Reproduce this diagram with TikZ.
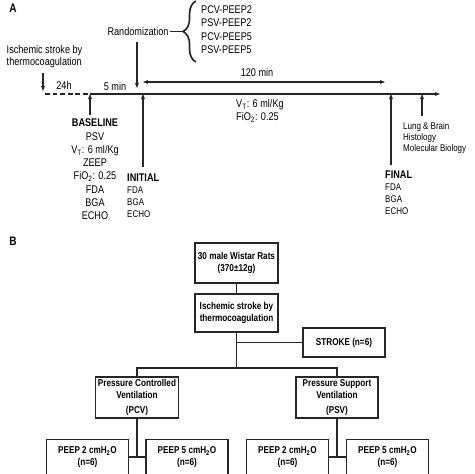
\documentclass[tikz,border=0pt]{standalone}
\usepackage{fontspec}
\setmainfont[FakeStretch=0.82]{Liberation Sans}
\usetikzlibrary{arrows.meta,decorations.pathreplacing}

\begin{document}
\begin{tikzpicture}[
    x=0.03cm, y=-0.03cm,
    txt/.style={inner sep=0pt, text=black, font=\fontsize{9.5}{11.4}\selectfont},
    note/.style={inner sep=0pt, text=black, align=left, font=\fontsize{8.3}{10.2}\selectfont},
    panel/.style={inner sep=0pt, font=\bfseries\fontsize{10.5}{12}\selectfont},
    box/.style={draw=black!85, line width=1.2pt, inner sep=2pt, align=center, text=black,
        minimum width=2.47cm, font=\bfseries\fontsize{8.5}{10}\selectfont},
    link/.style={draw=black!85, line width=1pt},
    arrow/.style={link, -{Stealth[length=4.5pt,width=3.5pt]}},
    darrow/.style={link, {Stealth[length=4.5pt,width=3.5pt]}-{Stealth[length=4.5pt,width=3.5pt]}}
]
    \useasboundingbox (0,0) rectangle (474,474);

    % --- A: timeline of the protocol ---
    \node[panel] (labA) at (13,8) {A};

    \coordinate (t0) at (45,94);   % stroke
    \coordinate (tb) at (90,94);   % baseline
    \coordinate (ti) at (143,94);  % initial
    \coordinate (tf) at (391,94);  % final
    \coordinate (tl) at (422,94);  % lung & brain
    \coordinate (tend) at (440,94);

    \draw[link, dash pattern=on 4pt off 2.5pt] (t0) -- (tb);
    \draw[arrow] (tb) -- (tend);

    % randomization into the four groups
    \node[txt, anchor=west, align=left, font=\fontsize{9.5}{11.5}\selectfont] (groups) at (201,29.8)
        {PCV-PEEP2\\PSV-PEEP2\\PCV-PEEP5\\PSV-PEEP5};
    \draw[link, line width=1.4pt, decorate, decoration={brace, amplitude=11pt}] (196,62) -- (196,1);
    \coordinate (tip) at (183,31.5);
    \node[txt, inner xsep=1pt] (rand) at (138,31.5) {Randomization};
    \draw[link] (rand.east) -- (tip);
    \coordinate (r5) at (137,88);
    \draw[arrow, shorten <=5pt] (rand.south -| r5) -- (r5);

    % stroke before baseline
    \node[note, font=\fontsize{9.5}{10.2}\selectfont] (isch) at (44.5,56.8) {Ischemic stroke by\\thermocoagulation};
    \coordinate (s24) at (43,91);
    \draw[arrow, shorten <=4pt] (isch.south -| s24) -- (s24);
    \node[txt] (h24) at (64,85) {24h};
    \node[txt] (m5) at (115,87) {5 min};

    % 120 min window
    \coordinate (w0) at (143,82);
    \coordinate (w1) at (385,82);
    \draw[darrow] (w0) -- (w1);
    \node[txt] (m120) at (257,73) {120 min};
    \node[txt, anchor=west, align=left, font=\fontsize{9.5}{11.1}\selectfont] (vent) at (236,111)
        {V\textsubscript{T}: 6 ml/Kg\\FiO\textsubscript{2}: 0.25};

    % time points
    \coordinate (bl) at (90,115);
    \coordinate (il) at (143,167);
    \coordinate (fl) at (391,165);
    \coordinate (ll) at (422,116);
    \draw[arrow] (bl) -- (tb);
    \draw[arrow] (il) -- (ti);
    \draw[arrow] (fl) -- (tf);
    \draw[arrow] (ll) -- (tl);

    \node[txt, align=center, font=\fontsize{9.5}{11.35}\selectfont] (base) at (95,169.5)
        {\textbf{BASELINE}\\PSV\\V\textsubscript{T}: 6 ml/Kg\\ZEEP\\FiO\textsubscript{2}: 0.25\\FDA\\BGA\\ECHO};
    \node[note, anchor=west] (init) at (127,195.8)
        {{\fontsize{9.5}{10.2}\selectfont\bfseries INITIAL}\\FDA\\BGA\\ECHO};
    \node[note, anchor=west] (fin) at (385,192.8)
        {{\fontsize{9.5}{10.2}\selectfont\bfseries FINAL}\\FDA\\BGA\\ECHO};
    \node[note, anchor=west, font=\fontsize{8.3}{9.4}\selectfont] (lung) at (403,137.8)
        {Lung \& Brain\\Histology\\Molecular Biology};

    % --- B: flow chart of the groups ---
    \node[panel] (labB) at (13,241) {B};

    \node[box, minimum height=1.2cm, minimum width=2.49cm] (rats) at (236.5,263)
        {30 male Wistar Rats\\(370±12g)};
    \node[box, minimum height=1.14cm, minimum width=2.49cm] (isc) at (236.5,313)
        {Ischemic stroke by\\thermocoagulation};
    \node[box, minimum height=0.87cm] (strk) at (344,342.5) {STROKE (n=6)};
    \node[box, minimum height=1.23cm] (pcv) at (137,397.5)
        {Pressure Controlled\\Ventilation\\[2.5pt](PCV)};
    \node[box, minimum height=1.23cm] (psv) at (337,397.5)
        {Pressure Support\\Ventilation\\[2.5pt](PSV)};

    \node[box, anchor=north, inner ysep=6pt, text depth=20pt] (pcv2) at (87.5,439) {PEEP 2 cmH\textsubscript{2}O\\(n=6)};
    \node[box, anchor=north, inner ysep=6pt, text depth=20pt] (pcv5) at (187,439) {PEEP 5 cmH\textsubscript{2}O\\(n=6)};
    \node[box, anchor=north, inner ysep=6pt, text depth=20pt] (psv2) at (287.5,439) {PEEP 2 cmH\textsubscript{2}O\\(n=6)};
    \node[box, anchor=north, inner ysep=6pt, text depth=20pt] (psv5) at (387.5,439) {PEEP 5 cmH\textsubscript{2}O\\(n=6)};

    \coordinate (split) at (236.5,368);
    \coordinate (jl) at (137,457);
    \coordinate (jr) at (337,457);
    \draw[link] (rats) -- (isc);
    \draw[link] (isc.south) -- (split);
    \draw[link] (isc.south |- strk.west) -- (strk.west);
    \draw[link] (pcv.north) -- (pcv.north |- split) -- (psv.north |- split) -- (psv.north);
    \draw[link] (pcv.south) -- (jl);
    \draw[link] (psv.south) -- (jr);
    \draw[link] (pcv2.east |- jl) -- (pcv5.west |- jl);
    \draw[link] (psv2.east |- jr) -- (psv5.west |- jr);
\end{tikzpicture}
\end{document}
